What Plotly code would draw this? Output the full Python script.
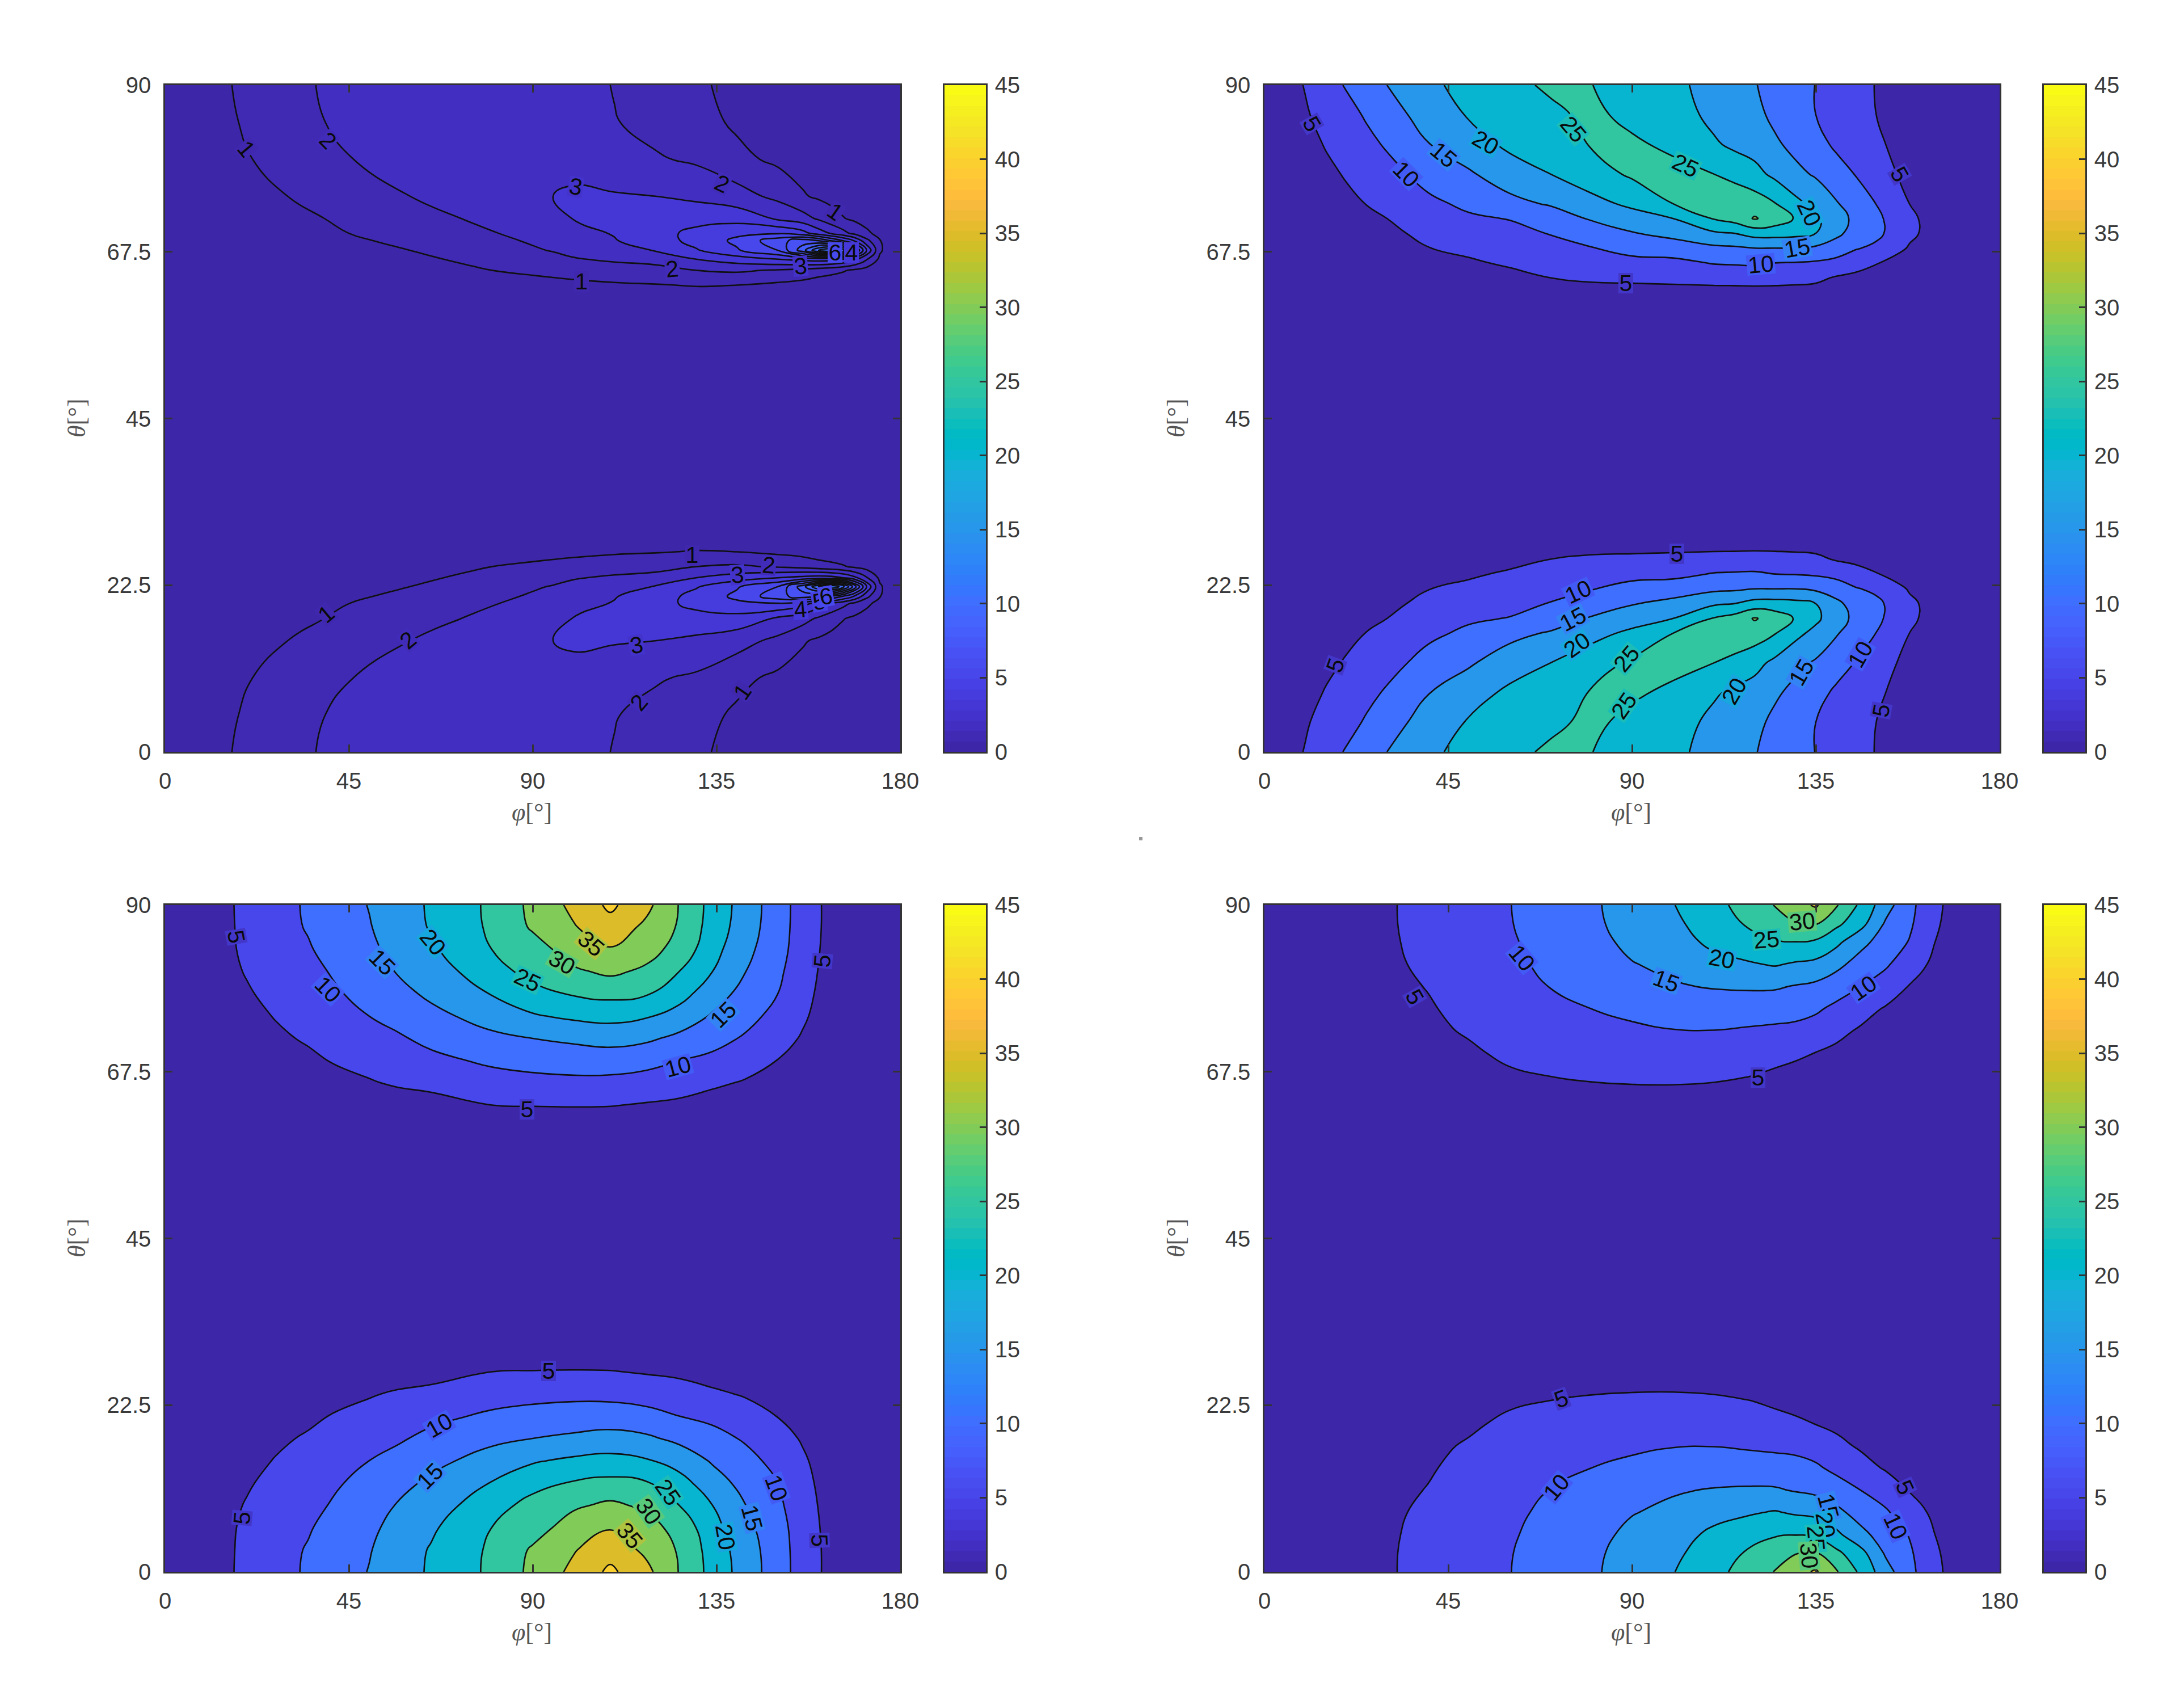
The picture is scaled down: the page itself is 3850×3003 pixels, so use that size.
import plotly.graph_objects as go

PARULA = [
(0.2422,0.1504,0.6603),(0.2504,0.1650,0.7076),(0.2578,0.1818,0.7511),(0.2647,0.1978,0.7952),
(0.2706,0.2147,0.8364),(0.2751,0.2342,0.8710),(0.2783,0.2559,0.8991),(0.2803,0.2782,0.9221),
(0.2813,0.3006,0.9414),(0.2810,0.3228,0.9579),(0.2795,0.3447,0.9717),(0.2760,0.3667,0.9829),
(0.2699,0.3892,0.9906),(0.2602,0.4123,0.9952),(0.2440,0.4358,0.9988),(0.2206,0.4603,0.9973),
(0.1963,0.4847,0.9892),(0.1834,0.5074,0.9798),(0.1786,0.5289,0.9682),(0.1764,0.5499,0.9520),
(0.1687,0.5703,0.9359),(0.1540,0.5902,0.9218),(0.1460,0.6091,0.9079),(0.1380,0.6276,0.8973),
(0.1248,0.6459,0.8883),(0.1113,0.6635,0.8763),(0.0952,0.6798,0.8598),(0.0689,0.6948,0.8394),
(0.0297,0.7082,0.8163),(0.0036,0.7203,0.7917),(0.0067,0.7312,0.7660),(0.0433,0.7411,0.7394),
(0.0964,0.7500,0.7120),(0.1408,0.7584,0.6842),(0.1717,0.7670,0.6554),(0.1938,0.7758,0.6251),
(0.2161,0.7843,0.5923),(0.2470,0.7918,0.5567),(0.2906,0.7973,0.5188),(0.3406,0.8008,0.4789),
(0.3909,0.8029,0.4354),(0.4456,0.8024,0.3909),(0.5044,0.7993,0.3480),(0.5616,0.7942,0.3045),
(0.6174,0.7876,0.2612),(0.6720,0.7793,0.2227),(0.7242,0.7698,0.1910),(0.7738,0.7598,0.1646),
(0.8203,0.7498,0.1535),(0.8634,0.7406,0.1596),(0.9035,0.7330,0.1774),(0.9393,0.7288,0.2100),
(0.9728,0.7309,0.2394),(0.9956,0.7434,0.2371),(0.9970,0.7659,0.2199),(0.9952,0.7893,0.2028),
(0.9892,0.8136,0.1885),(0.9786,0.8386,0.1766),(0.9676,0.8639,0.1643),(0.9610,0.8890,0.1537),
(0.9597,0.9135,0.1423),(0.9628,0.9373,0.1265),(0.9691,0.9606,0.1064),(0.9769,0.9839,0.0805)]

X_TICKS = [0, 45, 90, 135, 180]
Y_TICKS = [0, 22.5, 45, 67.5, 90]
Y_TICK_TEXT = ["0", "22.5", "45", "67.5", "90"]
CB_TICKS = [0, 5, 10, 15, 20, 25, 30, 35, 40, 45]

# Panel 1 (top left): values per phi column, at the lower-half thetas; the upper half mirrors them
P1_PHI = [0,15,30,45,60,75,90,95,100,110,120,130,140,150,156,160,163,166,169,172,175,178,180]
P1_THETA = [0,5,10,15,18,20,21,22.3,23.5,25,27,30,45]
P1_Z = [
[0,0,0,0,0,0,0,0,0,0,0,0,0],
[.93,.85,.7,.45,.25,.1,.08,.06,.04,.02,0,0,0],
[1.7,1.6,1.4,1.0,.7,.5,.42,.32,.25,.15,.05,0,0],
[2.35,2.25,1.97,1.5,1.2,1.0,.9,.78,.65,.5,.3,.08,0],
[2.65,2.6,2.35,2.0,1.6,1.3,1.15,1.0,.82,.6,.33,.1,0],
[2.8,2.75,2.6,2.35,2.08,1.8,1.62,1.4,1.15,.9,.45,.1,0],
[2.75,2.8,2.8,2.72,2.5,2.25,2.1,1.9,1.6,1.2,.6,.12,0],
[2.6,2.75,2.85,3.0,2.8,2.55,2.35,2.05,1.75,1.3,.68,.13,0],
[2.45,2.65,2.88,3.05,3.02,2.75,2.55,2.25,1.93,1.4,.75,.15,0],
[1.95,2.05,2.6,3.05,3.15,3.05,2.95,2.6,2.15,1.55,.88,.2,0],
[1.55,1.7,2.1,3.0,3.4,3.6,3.45,3.05,2.35,1.65,.95,.2,0],
[1.15,1.35,1.85,2.8,3.6,4.3,4.35,3.9,3.0,2.0,1.05,.2,0],
[.75,.85,1.25,2.4,3.6,4.8,5.2,4.9,3.5,2.15,1.0,.15,0],
[.45,.55,.8,1.75,2.85,4.9,6.6,6.0,4.0,1.9,.8,.1,0],
[.3,.38,.6,1.1,2.4,4.4,7.5,8.5,4.3,1.7,.65,.08,0],
[.25,.3,.45,.85,1.85,3.5,7,11,4.5,1.45,.45,.05,0],
[.2,.25,.38,.7,1.4,2.9,6,12,4.4,1.3,.35,.03,0],
[.15,.2,.3,.55,1.05,2.3,5,10.5,4,1.1,.25,0,0],
[.12,.15,.22,.42,.8,1.7,3.8,7.2,3.2,.8,.15,0,0],
[.08,.1,.15,.3,.6,1.15,2.2,3.7,2.0,.55,.08,0,0],
[.05,.07,.1,.2,.35,.7,1.05,1.15,.8,.3,.05,0,0],
[.02,.03,.05,.08,.15,.25,.35,.4,.3,.1,0,0,0],
[0,0,0,0,0,0,0,0,0,0,0,0,0]]

# Panel 2 (top right)
P2_PHI = [0,10,15,20,25,30,40,50,60,70,80,90,100,110,115,120,125,130,135,140,145,150,155,158,160,165,170,180]
P2_THETA = [0,4,8,12,16,18,20,22,24,26,28,30,34,45]
P2_Z = [
[0,0,0,0,0,0,0,0,0,0,0,0,0,0],
[5.3,4.4,3.3,2.4,1.6,1.2,.9,.6,.4,.2,.08,.02,0,0],
[7.9,6.9,5.3,3.9,2.6,2,1.5,1.1,.75,.4,.2,.05,0,0],
[10.4,8.2,6.5,5.4,3.9,3.1,2.4,1.7,1.2,.7,.35,.1,0,0],
[12.8,10.6,8.6,6.9,5.1,4.2,3.3,2.5,1.8,1.1,.55,.2,.01,0],
[15,12.7,10.6,8.2,6,5,4,3.2,2.3,1.5,.8,.3,.02,0],
[19,17.2,14.8,11.8,8.9,7.5,6.1,4.9,3.7,2.5,1.4,.6,.05,0],
[21.5,20.4,17.8,14.4,11,9.3,7.9,6,4.4,3.1,1.9,.9,.1,0],
[24,23,21,17.6,13.6,10.2,8.5,7.2,5.6,3.7,2.3,1.1,.1,0],
[25.6,24.2,22.6,20,15.5,12.3,10.2,8.7,6.9,5,2.8,1.3,.15,0],
[25.1,25.8,25.3,22.7,18.5,15.5,12,9.8,7.9,5.8,3.1,1.5,.15,0],
[22.8,24,25.6,25.8,21,18,14.7,11.6,8.6,6,3.3,1.6,.15,0],
[21.5,22.6,24.2,26.2,25,20,16.4,12.6,8.7,6.2,3.5,1.7,.15,0],
[17.8,18.6,20.7,25,27,25.3,19.3,14,10.3,6.5,3.6,1.7,.15,0],
[16,16.8,19,23.6,28.3,27,20,14.3,10.5,6.6,3.6,1.7,.15,0],
[15.3,16.4,17.9,21.6,27.5,30.4,21.9,15,10.7,6.7,3.7,1.7,.15,0],
[13.1,13.8,15.8,18.8,25.2,28,22,15,10,6.6,3.6,1.7,.15,0],
[11.7,12.3,13.6,16.3,21.3,24.6,21.5,15,9.8,6.4,3.5,1.6,.12,0],
[9.9,10,11.4,14.4,18.6,21,20,14.2,9.4,6,3.3,1.5,.1,0],
[8.3,8.2,9.3,11.7,15.4,17.2,16.2,12.5,8.6,4.6,3,1.3,.1,0],
[6.8,6.7,7.7,9.7,12.6,13.6,12.8,10.3,6.9,3.8,2.3,1,.08,0],
[4.7,4.9,5.8,7.2,9.8,11,11,9,5.2,2.8,1.7,.8,.05,0],
[3.3,3.4,3.9,4.9,6.6,7.7,8,6,3.5,1.9,1.2,.5,.02,0],
[2.6,2.7,3.1,3.8,4.95,5.7,5.8,4.6,2.8,1.5,.9,.4,.02,0],
[2.1,2.2,2.5,3.1,4.2,5.05,5.1,3.7,2.2,1.2,.7,.3,.01,0],
[1.3,1.35,1.5,1.85,2.6,3.1,3.2,2.3,1.4,.7,.4,.15,0,0],
[.7,.72,.8,1,1.3,1.6,1.7,1.2,.7,.35,.2,.08,0,0],
[0,0,0,0,0,0,0,0,0,0,0,0,0,0]]

# Panel 3 (bottom left)
P3_PHI = [0,10,20,27,35,43,50,57,65,80,90,100,109,118,126,134,142,150,156,162,170,180]
P3_THETA = [0,3,6,9,12,15,18,21,24,27,30,34,45]
P3_Z = [
[0,0,0,0,0,0,0,0,0,0,0,0,0],
[2.8,2.7,2.6,2.4,2.1,1.7,1.3,.9,.5,.2,.05,0,0],
[6,5.95,5.8,5.3,4.5,3.7,2.9,2,1.2,.5,.12,0,0],
[8.5,8.4,8,7.1,6.3,5.2,4.2,3,1.8,.8,.2,0,0],
[10.5,10.3,9.6,8.5,7.5,6.5,5.5,4.1,2.5,1.1,.3,.02,0],
[13,12.7,12,11,9.8,8.7,7,5.6,3.6,1.5,.4,.02,0],
[15.2,14.7,13.8,12.7,11.5,10,8.2,6.6,4.6,2,.5,.03,0],
[18,17.6,16.8,15.3,13.5,11.5,9.4,7.7,5.6,2.6,.7,.04,0],
[20.5,20.3,19.2,17.6,15.9,13.6,11.2,8.8,6.3,3.2,.8,.05,0],
[26,25.8,25,22.8,20.2,17,13.9,10.8,8,5,1.3,.1,0],
[31.2,30.6,27.8,26.8,23.2,19.5,15,11.5,8.7,5.2,1.5,.1,0],
[36.2,34.6,32.3,29.2,25.4,20.9,15.9,12.3,8.8,5.3,1.6,.1,0],
[41,38,34.6,30.9,26.3,21.5,16.8,12.3,8.7,5.2,1.6,.1,0],
[36.2,33.8,31.8,29,25.3,20.4,15.8,11.5,8,4.6,1.3,.08,0],
[29.7,29.4,28.2,24.9,21.8,18,13.8,10,7.2,4,1.1,.05,0],
[23.3,22.9,21.7,20,17.2,14.5,11.6,8.9,5.8,3,.8,.03,0],
[17.8,17.4,16.4,15.1,13.4,11.5,9.5,7,4.6,2.2,.6,.02,0],
[12.3,12.2,11.8,11,10,8.6,6.8,4.9,3.1,1.4,.35,.01,0],
[7.9,7.8,7.6,7,6.4,5.7,4.6,3.3,2,.9,.2,0,0],
[4.2,4.2,4,3.8,3.5,3,2.5,1.8,1,.45,.1,0,0],
[1.4,1.4,1.35,1.3,1.2,1.05,.85,.6,.35,.15,.03,0,0],
[0,0,0,0,0,0,0,0,0,0,0,0,0]]

# Panel 4 (bottom right)
P4_PHI = [0,15,30,35,40,45,50,55,60,70,80,90,100,110,118,125,130,135,140,146,152,158,164,170,180]
P4_THETA = [0,2.5,5,8,11,14,17,20,23,26,30,45]
P4_Z = [
[0,0,0,0,0,0,0,0,0,0,0,0],
[1.5,1.5,1.45,1.3,1.15,.95,.75,.55,.33,.15,.03,0],
[4.5,4.5,4.4,4.1,3.6,3,2.4,1.8,1.1,.5,.1,0],
[5.5,5.45,5.3,5,4.4,3.75,3.05,2.3,1.45,.65,.12,0],
[6.5,6.4,6.2,5.8,5.2,4.5,3.7,2.8,1.8,.8,.15,0],
[7.4,7.3,7.1,6.6,6,5.5,4.7,3.5,2.2,1,.18,0],
[8.2,8.1,7.9,7.4,6.8,6.1,5.5,4.2,2.6,1.2,.2,0],
[9,8.9,8.7,8.2,7.5,6.6,5.8,5.1,3.5,1.45,.25,0],
[9.9,9.8,9.5,9,8.2,7.2,6.4,5.9,4.4,1.7,.3,0],
[12,11.9,11.6,11,10.1,8.8,7.5,6.2,5.1,2.4,.4,0],
[14.3,14.1,13.6,12.8,11.6,10,8.4,6.9,5.9,2.8,.45,0],
[17,16.7,16,14.8,13.1,11.2,9.1,7.4,6.2,3.2,.5,0],
[19.8,18.9,17.7,16,14.6,12.3,9.8,7.8,6.3,3.2,.5,0],
[23.5,22.6,21.2,18.2,15.3,12.5,9.9,7.7,5.9,3,.5,0],
[26.8,25.4,23,19.4,15.5,12.7,9.4,7.3,5.2,2.5,.4,0],
[30.2,27.9,24.6,20.4,15.5,12.2,9,6.2,4.4,2.2,.35,0],
[33.2,29.8,24.9,19.4,14.7,11.6,8.8,5.6,3.9,1.9,.3,0],
[35.6,30.4,24.2,18.7,13.9,10.7,7.9,4.9,3.1,1.5,.25,0],
[30.5,26.2,21.2,16.3,12.3,8.9,6.2,4,2.6,1.2,.2,0],
[24,21.7,16.4,13,10,6.8,4.4,3,2,.9,.15,0],
[17.1,14.5,12.8,10.6,8,4.6,3.1,2.1,1.3,.6,.1,0],
[11.3,10.7,9.7,7.6,4.7,3,2,1.4,.9,.4,.06,0],
[6.2,5.8,5.1,3.9,2.8,1.9,1.3,.9,.5,.2,.02,0],
[2.8,2.6,2.3,1.8,1.3,.9,.6,.4,.25,.1,0,0],
[0,0,0,0,0,0,0,0,0,0,0,0]]

# Contour labels: text, phi, theta, rotation
P1_LABELS = [("1",39.5,18.6,-40),("2",59.5,15.1,-40),("3",115.4,14.4,-10),("1",129,26.6,0),
 ("2",147.8,25.2,5),("3",140.2,23.9,-5),("4",155.5,19.2,-5),("5",160.2,20.3,-10),("6",161.8,21,-10),
 ("2",116,6.7,-50),("1",141.4,8.1,-55),("1",19.8,81.4,50),("2",39.9,82.5,45),("3",100.6,76.3,10),
 ("2",136.4,76.7,25),("1",164,72.9,35),("1",102,63.5,0),("2",124.1,65.2,-5),("3",155.5,65.6,-5),
 ("6",164,67.4,0),("4",168,67.4,0)]
P2_LABELS = [("5",101,26.7,0),("10",76.8,21.6,-25),("15",75.6,17.9,-28),("20",76.5,14.4,-35),
 ("25",88.6,12.6,-50),("25",88,6.2,-55),("5",17.4,11.7,-70),("20",115,8.2,-60),("15",131.5,10.7,-60),
 ("10",145.9,13.2,-60),("5",151,5.6,-80),("5",11.6,84.8,60),("10",34.7,78,45),("15",43.9,80.6,40),
 ("20",54.1,82.3,30),("25",75.6,84,50),("25",103.1,79.1,25),("20",133.4,72.7,65),("15",130.4,68,-10),
 ("10",121.5,65.8,-5),("5",88.5,63.3,0),("5",155.5,78,60)]
P3_LABELS = [("5",93.9,27.1,0),("10",67.1,19.8,-30),("15",64.8,12.9,-45),("5",18.8,7.3,-85),
 ("25",123.1,10.7,55),("30",118.4,8.1,55),("35",113.7,4.9,50),("20",137.2,4.7,80),("15",143.7,7.3,75),
 ("10",149.6,11.3,70),("5",160.2,4.2,88),("5",17.4,85.7,80),("10",39.9,78.6,45),("15",53.2,82.3,45),
 ("20",65.5,85,50),("25",88.7,79.9,25),("30",97.2,82.3,30),("35",104.3,84.8,40),("15",136.7,75.2,-45),
 ("10",125.5,68.2,-15),("5",88.6,62.4,0),("5",160.9,82.5,-85)]
P4_LABELS = [("5",72.7,23.4,-20),("10",71.5,11.4,-50),("5",156.8,11.4,65),("15",138,8.8,75),
 ("10",154.5,6.1,65),("20",137.4,6.3,80),("25",135,4.5,85),("30",133.3,2.2,85),("5",36.8,77.6,60),
 ("10",63,82.9,50),("15",98.4,79.7,20),("20",112,82.7,10),("25",122.9,85.3,-5),("30",131.7,87.8,-5),
 ("10",146.7,78.8,-35),("5",120.8,66.7,0)]

W, H = 3850, 3003
TEXT = "#3a3a3a"
FONT = "Liberation Sans"


def col(level):
    r, g, b = PARULA[min(63, int(level / 45 * 64))]
    return (r, g, b)


def css(c):
    return "rgb(%d,%d,%d)" % tuple(round(v * 255) for v in c)


def mirror_theta(t):
    return t + [90 - v for v in t[-2::-1]]


def grid(z_by_phi):
    cols = [c + c[-2::-1] for c in z_by_phi]
    return [list(r) for r in zip(*cols)]


PANELS = [
    dict(phi=P1_PHI, theta=P1_THETA, z=P1_Z, labels=P1_LABELS, step=1, end=14, left=291, top=150),
    dict(phi=P2_PHI, theta=P2_THETA, z=P2_Z, labels=P2_LABELS, step=5, end=45, left=2229, top=150),
    dict(phi=P3_PHI, theta=P3_THETA, z=P3_Z, labels=P3_LABELS, step=5, end=45, left=291, top=1595),
    dict(phi=P4_PHI, theta=P4_THETA, z=P4_Z, labels=P4_LABELS, step=5, end=45, left=2229, top=1595),
]
PW, PH = 1296, 1175
CB_OFF, CB_W = 1374, 73

fig = go.Figure()
layout = dict(width=W, height=H, autosize=False,
              margin=dict(l=0, r=0, t=0, b=0, pad=0, autoexpand=False),
              paper_bgcolor="white", plot_bgcolor="white", showlegend=False)
anns = []

for i, p in enumerate(PANELS):
    n = 2 * i + 1
    xn, yn = ("x%d" % n, "y%d" % n)
    xc, yc = ("x%d" % (n + 1), "y%d" % (n + 1))
    step = p["step"]
    levels = list(range(0, p["end"] + 1, step))
    scale = [[L / p["end"], css(col(L))] for L in levels]
    fig.add_trace(go.Contour(
        x=p["phi"], y=mirror_theta(p["theta"]), z=grid(p["z"]),
        xaxis=xn, yaxis=yn, colorscale=scale, showscale=False,
        autocontour=False,
        contours=dict(coloring="fill", start=step, end=p["end"], size=step, showlabels=False),
        line=dict(color="#101010", width=2.6, smoothing=1.3), hoverinfo="skip"))
    axis = dict(showline=True, linecolor="#333333", linewidth=2.5, mirror="ticks", ticks="inside",
                ticklen=13, tickwidth=2.5, tickcolor="#333333", showgrid=False, zeroline=False,
                tickfont=dict(family=FONT, size=40, color=TEXT))
    L, T = p["left"], p["top"]
    dx = [L / W, (L + PW) / W]
    dy = [1 - (T + PH) / H, 1 - T / H]
    layout["xaxis" + str(n)] = dict(axis, domain=dx, range=[0, 180], tickvals=X_TICKS,
                                    anchor=yn, ticklabelstandoff=14)
    layout["yaxis" + str(n)] = dict(axis, domain=dy, range=[0, 90], tickvals=Y_TICKS,
                                    ticktext=Y_TICK_TEXT, anchor=xn, ticklabelstandoff=14)
    # colour bar as its own axes
    cb_y = [(j + 0.5) * 45 / 64 for j in range(64)]
    fig.add_trace(go.Heatmap(
        x=[0.5], y=cb_y, z=[[j] for j in range(64)], xaxis=xc, yaxis=yc, zmin=0, zmax=63,
        colorscale=[[j / 63, css(PARULA[j])] for j in range(64)], showscale=False, hoverinfo="skip"))
    layout["xaxis" + str(n + 1)] = dict(domain=[(L + CB_OFF) / W, (L + CB_OFF + CB_W) / W], range=[0, 1],
                                        anchor=yc, showline=True, mirror=True, linecolor="#333333",
                                        linewidth=2.5, showticklabels=False, ticks="", showgrid=False,
                                        zeroline=False)
    layout["yaxis" + str(n + 1)] = dict(domain=dy, range=[0, 45], tickvals=CB_TICKS, anchor=xc, side="right",
                                        showline=True, mirror=True, linecolor="#333333", linewidth=2.5,
                                        ticks="inside", ticklen=11, tickwidth=2.5, tickcolor="#333333",
                                        showgrid=False, zeroline=False, ticklabelstandoff=5,
                                        tickfont=dict(family=FONT, size=40, color=TEXT))
    for text, x, y, ang in p["labels"]:
        lv = int(text)
        lo = col(lv - step)
        hi = col(lv)
        mid = tuple((a + b) / 2 for a, b in zip(lo, hi))
        anns.append(dict(x=x, y=y, xref=xn, yref=yn, text=text, showarrow=False, textangle=ang,
                         xanchor="center", yanchor="middle", borderpad=0, borderwidth=0,
                         height=36, width=24 * len(text) + 2,
                         bgcolor=css(mid), font=dict(family=FONT, size=41, color="#0a0a0a")))
    # axis titles
    anns.append(dict(x=(L + 646) / W, y=1 - (T + PH + 106) / H, xref="paper", yref="paper",
                     text="<i>φ</i>[°]", showarrow=False, xanchor="center", yanchor="middle",
                     font=dict(family="Liberation Serif", size=44, color="#555555")))
    anns.append(dict(x=(L - 156) / W, y=1 - (T + 587) / H, xref="paper", yref="paper",
                     text="<i>θ</i>[°]", showarrow=False, textangle=-90, xanchor="center", yanchor="middle",
                     font=dict(family="Liberation Serif", size=44, color="#555555")))

layout["annotations"] = anns
layout["shapes"] = [dict(type="rect", xref="paper", yref="paper", x0=2008 / W, x1=2014 / W,
                         y0=1 - 1481 / H, y1=1 - 1475 / H, fillcolor="#999999", line=dict(width=0))]
fig.update_layout(**layout)
fig.write_html("out.html", config={"displayModeBar": False}, post_script="document.body.style.margin='0';")
